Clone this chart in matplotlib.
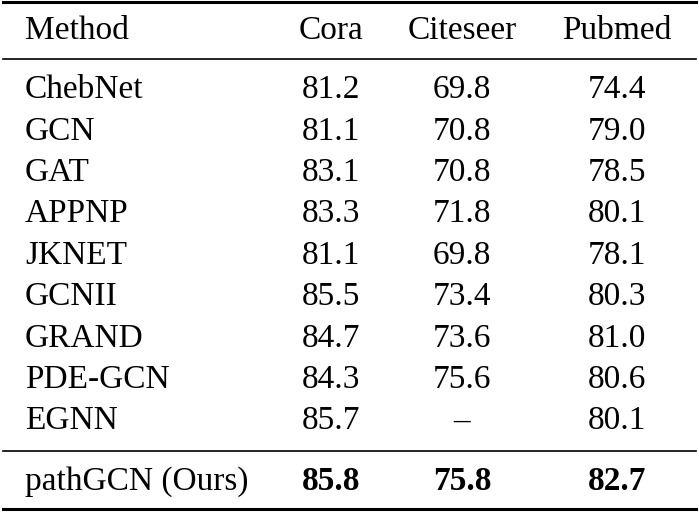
import matplotlib.pyplot as plt

methods = ['ChebNet', 'GCN', 'GAT', 'APPNP', 'JKNET', 'GCNII', 'GRAND', 'PDE-GCN', 'EGNN']
cora = ['81.2', '81.1', '83.1', '83.3', '81.1', '85.5', '84.7', '84.3', '85.7']
citeseer = ['69.8', '70.8', '70.8', '71.8', '69.8', '73.4', '73.6', '75.6', '–']
pubmed = ['74.4', '79.0', '78.5', '80.1', '78.1', '80.3', '81.0', '80.6', '80.1']
headers = ['Method', 'Cora', 'Citeseer', 'Pubmed']
ours = ['pathGCN (Ours)', '85.8', '75.8', '82.7']

plt.rcParams['font.family'] = 'Liberation Serif'
fs = 24

fig = plt.figure(figsize=(6.99, 5.13), dpi=100)
ax = fig.add_axes([0, 0, 1, 1])
ax.set_xlim(0, 699)
ax.set_ylim(513, 0)
ax.axis('off')

col_x = [25, 331, 462, 617]

# rules
ax.plot([3, 696], [2, 2], color='black', lw=2.2)
ax.plot([3, 696], [59, 59], color='black', lw=1.2)
ax.plot([3, 696], [451, 451], color='black', lw=1.2)
ax.plot([3, 696], [509, 509], color='black', lw=2.2)

def row(y, vals, weight='normal'):
    ax.text(col_x[0], y, vals[0], fontsize=fs, ha='left', va='center')
    for x, v in zip(col_x[1:], vals[1:]):
        ax.text(x, y, v, fontsize=fs, ha='center', va='center', fontweight=weight)

row(31, headers)
for i in range(len(methods)):
    row(90 + i * 41.4, [methods[i], cora[i], citeseer[i], pubmed[i]])
row(482, ours, weight='bold')

fig.savefig('out.png', dpi=100)
